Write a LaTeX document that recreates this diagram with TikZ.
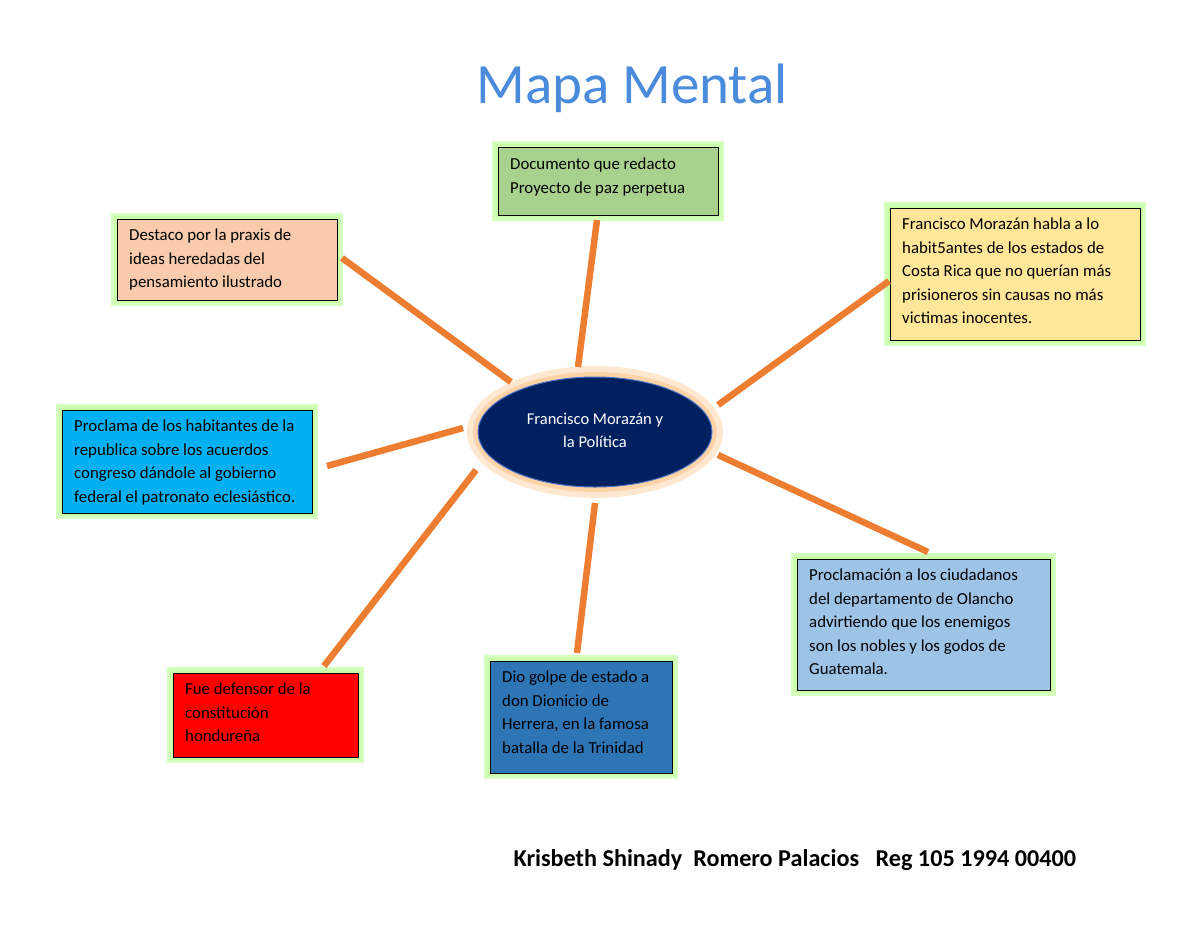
\documentclass[tikz,border=0pt]{standalone}
\usepackage{fontspec}
\setmainfont{Carlito}
\begin{document}
\begin{tikzpicture}[x=1pt,y=-1pt,
  bx/.style={draw=black,line width=0.8pt,preaction={draw=green!55!lime!50,line width=12pt,opacity=0.5},preaction={draw=green!45!lime!40,line width=6pt,opacity=0.6}},
  txt/.style={anchor=north west,align=left,font=\fontsize{16.8}{23.5}\selectfont,inner sep=0pt},
  conn/.style={draw={rgb,255:red,237;green,125;blue,49},line width=6.5pt}]
\definecolor{cgreen}{HTML}{A9D18E}
\definecolor{cpeach}{HTML}{F8CBAD}
\definecolor{cyellow}{HTML}{FFE699}
\definecolor{ccyan}{HTML}{00B0F0}
\definecolor{clblue}{HTML}{9DC3E6}
\definecolor{cdblue}{HTML}{2E75B6}
\definecolor{cnavy}{HTML}{002060}
\definecolor{ctitle}{HTML}{4A8BDB}
\useasboundingbox (0,0) rectangle (1200,927);
\fill[white] (0,0) rectangle (1200,927);
% boxes
\path[bx,fill=cgreen] (498,147) rectangle (718,215);
\node[txt] (t1) at (510,158) {Documento que redacto\\Proyecto de paz perpetua};
\path[bx,fill=cpeach] (117,219) rectangle (337,300);
\node[txt] (t2) at (129,229) {Destaco por la praxis de\\ideas heredadas del\\pensamiento ilustrado};
\path[bx,fill=cyellow] (890,208) rectangle (1140,340);
\node[txt] (t3) at (902,218) {Francisco Morazán habla a lo\\habit5antes de los estados de\\Costa Rica que no querían más\\prisioneros sin causas no más\\victimas inocentes.};
\path[bx,fill=ccyan] (62,410) rectangle (312,513);
\node[txt] (t4) at (74,420) {Proclama de los habitantes de la\\republica sobre los acuerdos\\congreso dándole al gobierno\\federal el patronato eclesiástico.};
\path[bx,fill=clblue] (797,559) rectangle (1050,690);
\node[txt] (t5) at (809,569) {Proclamación a los ciudadanos\\del departamento de Olancho\\advirtiendo que los enemigos\\son los nobles y los godos de\\Guatemala.};
\path[bx,fill=red] (173,673) rectangle (358,757);
\node[txt] (t6) at (185,683) {Fue defensor de la\\constitución\\hondureña};
\path[bx,fill=cdblue] (490,661) rectangle (672,773);
\node[txt] (t7) at (502,671) {Dio golpe de estado a\\don Dionicio de\\Herrera, en la famosa\\batalla de la Trinidad};
% center
\fill[orange!25,opacity=0.7] (595,432) ellipse [x radius=128,y radius=66];
\fill[orange!45,opacity=0.6] (595,432) ellipse [x radius=122,y radius=60];
\draw[fill=cnavy,draw={rgb,255:red,68;green,114;blue,196},line width=1pt] (595,432) ellipse [x radius=117,y radius=55];
\node[align=center,text=white,font=\fontsize{16.5}{23}\selectfont] (c) at (595,430) {Francisco Morazán y\\la Política};
% connectors
\coordinate (a1) at (597,220); \coordinate (b1) at (578,367);
\coordinate (a2) at (342,258); \coordinate (b2) at (511,382);
\coordinate (a3) at (889,281); \coordinate (b3) at (718,405);
\coordinate (a4) at (327,466); \coordinate (b4) at (463,428);
\coordinate (a5) at (928,552); \coordinate (b5) at (718,455);
\coordinate (a6) at (324,666); \coordinate (b6) at (476,470);
\coordinate (a7) at (577,653); \coordinate (b7) at (595,503);
\foreach \i in {1,...,7} {\draw[conn] (a\i) -- (b\i);}
% title
\node[text=ctitle,font=\fontsize{57}{57}\selectfont] (title) at (632,88) {Mapa Mental};
\node[font=\bfseries\fontsize{24.2}{24}\selectfont,anchor=west] (foot) at (510,860) {Krisbeth Shinady\ \ Romero Palacios\ \ \ Reg 105 1994 00400};
\end{tikzpicture}
\end{document}
